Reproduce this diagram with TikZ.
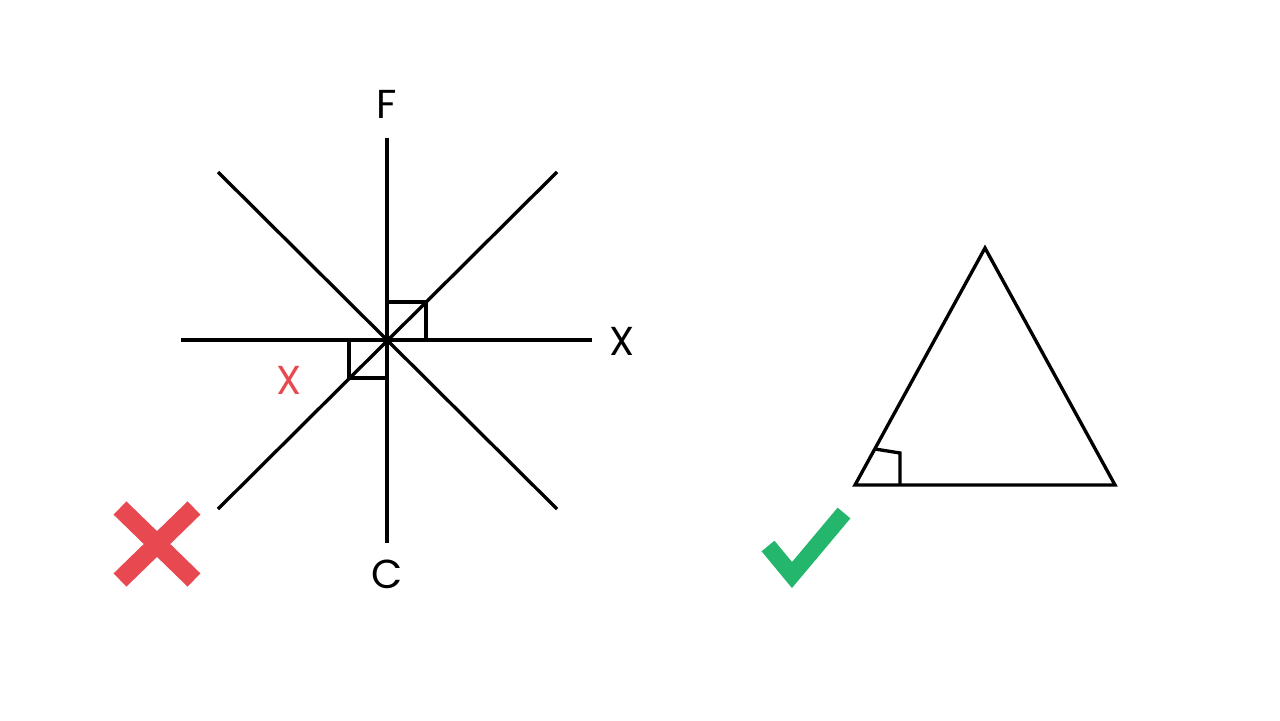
\documentclass[tikz,border=0pt]{standalone}
\usepackage{fontspec}
\setmainfont{Poppins}
\usetikzlibrary{positioning}
\definecolor{crossred}{RGB}{232,72,80}
\definecolor{checkgreen}{RGB}{36,182,108}
\tikzset{
	strich/.style={line width=1.9pt,black},
	beschrift/.style={font=\fontsize{23}{23}\selectfont,inner sep=0pt}
}

\begin{document}
\begin{tikzpicture}[x=0.02cm,y=-0.02cm]
		\useasboundingbox (0,0) rectangle (1280,720);

		% Stern
		\coordinate (mitte) at (387,340);
		\coordinate (oben) at (387,138);
		\coordinate (unten) at (387,543);
		\coordinate (links) at (181,340);
		\coordinate (rechts) at (592,340);
		\coordinate (ol) at (218,172);
		\coordinate (or) at (557,172);
		\coordinate (ul) at (218,509);
		\coordinate (ur) at (557,509);

		\begin{scope}[every node/.style={beschrift}]
			\node (F) at (387,104) {F};
			\node (X) at (622,341) {X};
			\node (C) at (387,574) {C};
			\node[text=crossred] (xrot) at (289,380) {X};
		\end{scope}

		\begin{scope}[strich]
			\path (oben) edge (unten);
			\path (links) edge (rechts);
			\path (ol) edge (ur);
			\path (or) edge (ul);
			\draw (mitte) rectangle (426,302);
			\draw (mitte) rectangle (349,378);
		\end{scope}

		% Dreieck
		\coordinate (spitze) at (985,248);
		\coordinate (dl) at (855,485);
		\coordinate (dr) at (1115,485);
		\begin{scope}[strich,line join=miter]
			\draw (spitze) -- (dl) -- (dr) -- cycle;
			\draw (875,449) -- (900,453) -- (900,485);
		\end{scope}

		% Kreuz und Haken
		\begin{scope}[line width=10.5pt,crossred]
			\draw (120,508) -- (194,580);
			\draw (194,508) -- (120,580);
		\end{scope}
		\draw[line width=9.5pt,checkgreen,line join=miter] (768,546) -- (792,575) -- (844,513);
	\end{tikzpicture}
\end{document}
